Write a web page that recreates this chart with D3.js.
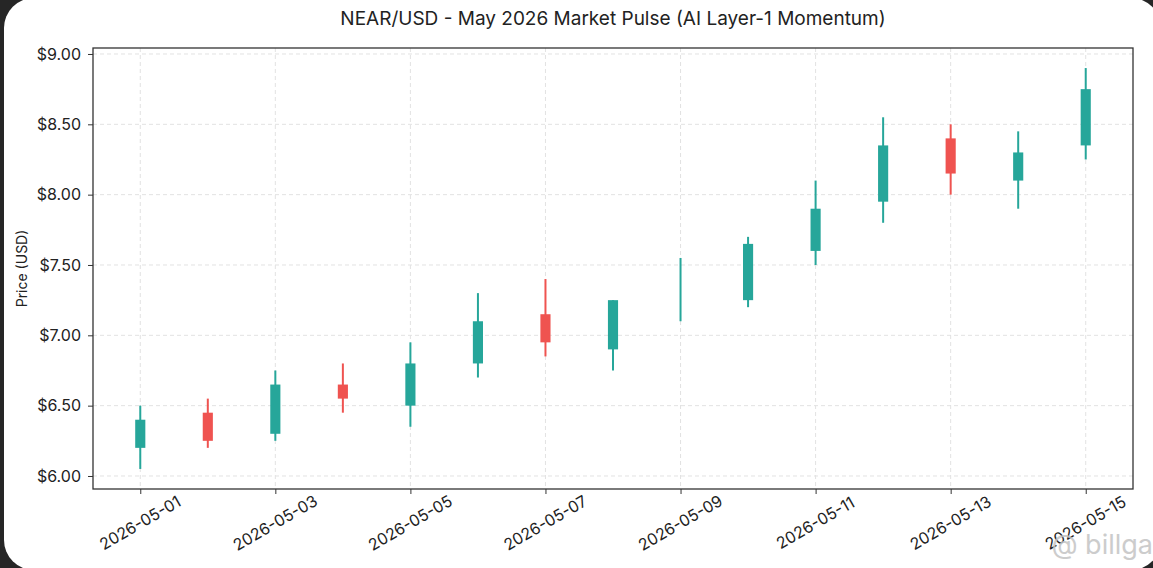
<!DOCTYPE html>
<html>
<head>
<meta charset="utf-8">
<script src="https://cdn.jsdelivr.net/npm/d3@7"></script>
<style>
  html, body { margin: 0; padding: 0; background: #262626; }
  svg { display: block; }
</style>
</head>
<body>
<svg id="chart" width="1153" height="568"></svg>
<script>
// daily OHLC
var dates = ['2026-05-01', '2026-05-02', '2026-05-03', '2026-05-04', '2026-05-05',
  '2026-05-06', '2026-05-07', '2026-05-08', '2026-05-09', '2026-05-10',
  '2026-05-11', '2026-05-12', '2026-05-13', '2026-05-14', '2026-05-15']
var opens = [6.20, 6.45, 6.30, 6.65, 6.50, 6.80, 7.15, 6.90, 7.30, 7.25, 7.60, 7.95, 8.40, 8.10, 8.35]
var closes = [6.40, 6.25, 6.65, 6.55, 6.80, 7.10, 6.95, 7.25, 7.30, 7.65, 7.90, 8.35, 8.15, 8.30, 8.75]
var highs = [6.50, 6.55, 6.75, 6.80, 6.95, 7.30, 7.40, 7.25, 7.55, 7.70, 8.10, 8.55, 8.50, 8.45, 8.90]
var lows = [6.05, 6.20, 6.25, 6.45, 6.35, 6.70, 6.85, 6.75, 7.10, 7.20, 7.50, 7.80, 8.00, 7.90, 8.25]
var yTicks = [6.0, 6.5, 7.0, 7.5, 8.0, 8.5, 9.0]
var xTickDates = ['2026-05-01', '2026-05-03', '2026-05-05', '2026-05-07',
  '2026-05-09', '2026-05-11', '2026-05-13', '2026-05-15']

var title = 'NEAR/USD - May 2026 Market Pulse (AI Layer-1 Momentum)'
var yLabel = 'Price (USD)'
var upColor = '#26a69a'
var downColor = '#ef5350'
var font = 'Inter, "Open Sans", sans-serif'

var W = 1153
var H = 568
var margin = { left: 93, right: 20, top: 48, bottom: 79 }

var parse = d3.utcParse('%Y-%m-%d')
var candles = dates.map(function (d, i) {
  return { date: parse(d), open: opens[i], close: closes[i], high: highs[i], low: lows[i] }
})

var svg = d3.select('#chart')

// white rounded panel over the dark phone frame
svg.append('rect')
  .attr('x', 4).attr('y', -2)
  .attr('width', W + 4).attr('height', H + 4)
  .attr('rx', 30).attr('ry', 30)
  .attr('fill', '#ffffff')

var x0 = candles[0].date
var x1 = candles[candles.length - 1].date
var pad = (x1 - x0) * 0.05
var x = d3.scaleUtc()
  .domain([new Date(+x0 - pad), new Date(+x1 + pad)])
  .range([margin.left, W - margin.right])

var lo = d3.min(lows)
var hi = d3.max(highs)
var yPad = (hi - lo) * 0.05
var y = d3.scaleLinear()
  .domain([lo - yPad, hi + yPad])
  .range([H - margin.bottom, margin.top])

var dayPx = x(d3.utcDay.offset(x0, 1)) - x(x0)
var bodyW = dayPx * 0.15

var plot = svg.append('g')

// grid
plot.append('g')
  .selectAll('line')
  .data(yTicks).enter()
  .append('line')
  .attr('x1', margin.left).attr('x2', W - margin.right)
  .attr('y1', function (d) { return y(d) })
  .attr('y2', function (d) { return y(d) })
  .attr('stroke', '#e2e2e2').attr('stroke-width', 1)
  .attr('stroke-dasharray', '4,3')

plot.append('g')
  .selectAll('line')
  .data(xTickDates.map(parse)).enter()
  .append('line')
  .attr('x1', function (d) { return x(d) })
  .attr('x2', function (d) { return x(d) })
  .attr('y1', margin.top).attr('y2', H - margin.bottom)
  .attr('stroke', '#e2e2e2').attr('stroke-width', 1)
  .attr('stroke-dasharray', '4,3')

// candles
var c = plot.append('g')
  .selectAll('g')
  .data(candles).enter()
  .append('g')

c.append('line')
  .attr('x1', function (d) { return x(d.date) })
  .attr('x2', function (d) { return x(d.date) })
  .attr('y1', function (d) { return y(d.high) })
  .attr('y2', function (d) { return y(d.low) })
  .attr('stroke', function (d) { return d.close >= d.open ? upColor : downColor })
  .attr('stroke-width', 2)

c.append('rect')
  .attr('x', function (d) { return x(d.date) - bodyW / 2 })
  .attr('width', bodyW)
  .attr('y', function (d) { return y(Math.max(d.open, d.close)) })
  .attr('height', function (d) { return Math.abs(y(d.open) - y(d.close)) })
  .attr('fill', function (d) { return d.close >= d.open ? upColor : downColor })

// axes
var yAxis = svg.append('g')
  .attr('transform', 'translate(' + margin.left + ',0)')
  .call(d3.axisLeft(y).tickValues(yTicks).tickSize(5).tickPadding(7)
    .tickFormat(function (d) { return '$' + d3.format('.2f')(d) }))
yAxis.select('.domain').remove()
yAxis.selectAll('text')
  .attr('font-family', font).attr('font-size', 16).attr('fill', '#222')
yAxis.selectAll('line').attr('stroke', '#333')

var xAxis = svg.append('g')
  .attr('transform', 'translate(0,' + (H - margin.bottom) + ')')
  .call(d3.axisBottom(x).tickValues(xTickDates.map(parse)).tickSize(5)
    .tickFormat(d3.utcFormat('%Y-%m-%d')))
xAxis.select('.domain').remove()
xAxis.selectAll('line').attr('stroke', '#333')
xAxis.selectAll('text')
  .attr('font-family', font).attr('font-size', 16).attr('fill', '#222')
  .attr('text-anchor', 'middle')
  .attr('dy', null).attr('y', null)
  .attr('transform', 'translate(0,35) rotate(-30)')
  .attr('dominant-baseline', 'middle')

// frame
svg.append('rect')
  .attr('x', margin.left).attr('y', margin.top)
  .attr('width', W - margin.right - margin.left)
  .attr('height', H - margin.bottom - margin.top)
  .attr('fill', 'none').attr('stroke', '#333').attr('stroke-width', 1.3)

svg.append('text')
  .attr('x', (margin.left + W - margin.right) / 2).attr('y', 25)
  .attr('text-anchor', 'middle')
  .attr('font-family', font).attr('font-size', 19).attr('fill', '#222')
  .text(title)

svg.append('text')
  .attr('transform', 'translate(27,' + ((margin.top + H - margin.bottom) / 2) + ') rotate(-90)')
  .attr('text-anchor', 'middle')
  .attr('font-family', font).attr('font-size', 14).attr('fill', '#222')
  .text(yLabel)

// watermark
svg.append('text')
  .attr('x', 1153).attr('y', 554)
  .attr('text-anchor', 'end')
  .attr('font-family', font).attr('font-size', 27).attr('fill', '#c4c4c4')
  .attr('opacity', 0.85)
  .text('@ billga')
</script>
</body>
</html>
